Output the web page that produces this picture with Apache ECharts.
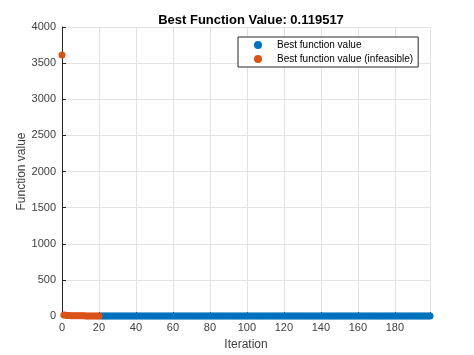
<!DOCTYPE html>
<html>
<head>
<meta charset="utf-8">
<script src="https://cdn.jsdelivr.net/npm/echarts@6/dist/echarts.min.js"></script>
<style>html,body{margin:0;padding:0;background:#fff}#c{width:474px;height:355px}</style>
</head>
<body>
<div id="c"></div>
<script>
var titleText = 'Best Function Value: 0.119517';
var seriesNames = ['Best function value', 'Best function value (infeasible)'];
var xTicks = [0, 20, 40, 60, 80, 100, 120, 140, 160, 180];
var yTicks = [0, 500, 1000, 1500, 2000, 2500, 3000, 3500, 4000];
var infeasibleStart = 0;
var infeasibleValues = [3612, 14.8, 9.6, 7.1, 5.9, 4.7, 3.8, 3.2, 2.9, 2.5, 2.2, 2.0, 1.8, 1.7, 1.5, 1.4, 1.3, 1.2, 1.1, 1.05, 1.0];
var feasibleStart = 21;
var feasibleValues = [
0.9132, 0.9132, 0.7408, 0.7408, 0.6215, 0.5531, 0.5531, 0.4862, 0.4410, 0.4410,
0.3987, 0.3652, 0.3652, 0.3301, 0.3108, 0.2894, 0.2894, 0.2713, 0.2560, 0.2560,
0.2421, 0.2297, 0.2297, 0.2185, 0.2086, 0.2086, 0.1994, 0.1911, 0.1911, 0.1840,
0.1772, 0.1772, 0.1713, 0.1660, 0.1660, 0.1612, 0.1569, 0.1569, 0.1530, 0.1495,
0.1495, 0.1463, 0.1435, 0.1435, 0.1409, 0.1386, 0.1386, 0.1365, 0.1347, 0.1347,
0.1330, 0.1315, 0.1315, 0.1302, 0.1290, 0.1290, 0.1279, 0.1270, 0.1270, 0.1261,
0.1254, 0.1254, 0.1247, 0.1241, 0.1241, 0.1236, 0.1231, 0.1231, 0.1227, 0.1223,
0.1223, 0.1220, 0.1217, 0.1217, 0.1214, 0.1212, 0.1212, 0.1210, 0.1208, 0.1208,
0.1206, 0.1205, 0.1205, 0.1203, 0.1202, 0.1202, 0.1201, 0.1200, 0.1200, 0.1199,
0.1199, 0.1198, 0.1198, 0.1197, 0.1197, 0.1197, 0.1196, 0.1196, 0.1196, 0.1196,
0.119517, 0.119517, 0.119517, 0.119517, 0.119517, 0.119517, 0.119517, 0.119517, 0.119517, 0.119517,
0.119517, 0.119517, 0.119517, 0.119517, 0.119517, 0.119517, 0.119517, 0.119517, 0.119517, 0.119517,
0.119517, 0.119517, 0.119517, 0.119517, 0.119517, 0.119517, 0.119517, 0.119517, 0.119517, 0.119517,
0.119517, 0.119517, 0.119517, 0.119517, 0.119517, 0.119517, 0.119517, 0.119517, 0.119517, 0.119517,
0.119517, 0.119517, 0.119517, 0.119517, 0.119517, 0.119517, 0.119517, 0.119517, 0.119517, 0.119517,
0.119517, 0.119517, 0.119517, 0.119517, 0.119517, 0.119517, 0.119517, 0.119517, 0.119517, 0.119517,
0.119517, 0.119517, 0.119517, 0.119517, 0.119517, 0.119517, 0.119517, 0.119517, 0.119517, 0.119517,
0.119517, 0.119517, 0.119517, 0.119517, 0.119517, 0.119517, 0.119517, 0.119517, 0.119517
];
var xMax = 199;

function pairs(start, vals) { return vals.map(function (v, i) { return [start + i, v]; }); }

var font = 'Liberation Sans, Arial, Helvetica, sans-serif';
var axisCol = '#262626';
var labelCol = '#404040';
var chart = echarts.init(document.getElementById('c'), null, { renderer: 'canvas' });
chart.setOption({
  backgroundColor: '#ffffff',
  animation: false,
  title: {
    text: titleText, left: 246, top: 9, textAlign: 'center',
    textStyle: { fontFamily: font, fontSize: 13, fontWeight: 'bold', color: '#000' }
  },
  legend: {
    orient: 'vertical', left: 238, top: 37,
    data: seriesNames,
    icon: 'circle', itemWidth: 8, itemHeight: 8, itemGap: 4,
    padding: [3, 5, 3, 16],
    borderColor: '#262626', borderWidth: 1, backgroundColor: '#fff',
    textStyle: { fontFamily: font, fontSize: 10, color: '#000', padding: [0, 0, 0, 10] }
  },
  grid: { left: 62, right: 44, top: 27, bottom: 39, containLabel: false, outerBoundsMode: 'none' },
  xAxis: {
    type: 'value', min: 0, max: xMax, interval: 20,
    name: 'Iteration', nameLocation: 'middle', nameGap: 23, nameMoveOverlap: false,
    nameTextStyle: { fontFamily: font, fontSize: 12, color: labelCol },
    axisLine: { show: true, lineStyle: { color: axisCol, width: 1 } },
    axisTick: { show: true, inside: true, length: 4, lineStyle: { color: axisCol } },
    axisLabel: { fontFamily: font, fontSize: 11, color: labelCol, margin: 6,
      formatter: function (v) { return xTicks.indexOf(v) >= 0 ? String(v) : ''; } },
    splitLine: { show: true, lineStyle: { color: '#e3e3e3', width: 1 } }
  },
  yAxis: {
    type: 'value', min: 0, max: 4000, interval: 500,
    name: 'Function value', nameLocation: 'middle', nameGap: 34, nameMoveOverlap: false,
    nameTextStyle: { fontFamily: font, fontSize: 12, color: labelCol },
    axisLine: { show: true, lineStyle: { color: axisCol, width: 1 } },
    axisTick: { show: true, inside: true, length: 4, lineStyle: { color: axisCol } },
    axisLabel: { fontFamily: font, fontSize: 11, color: labelCol, margin: 6,
      formatter: function (v) { return yTicks.indexOf(v) >= 0 ? String(v) : ''; } },
    splitLine: { show: true, lineStyle: { color: '#e3e3e3', width: 1 } }
  },
  series: [
    { name: seriesNames[0], type: 'scatter', symbol: 'circle', symbolSize: 7,
      itemStyle: { color: '#0072BD', opacity: 1 }, data: pairs(feasibleStart, feasibleValues), z: 3 },
    { name: seriesNames[1], type: 'scatter', symbol: 'circle', symbolSize: 7,
      itemStyle: { color: '#D95319', opacity: 1 }, data: pairs(infeasibleStart, infeasibleValues), z: 4 }
  ]
});
</script>
</body>
</html>
